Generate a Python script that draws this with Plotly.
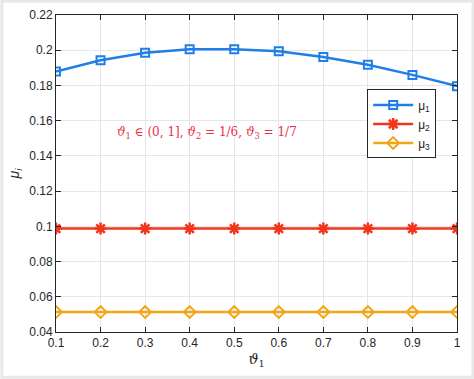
import plotly.graph_objects as go

theta1 = [0.1, 0.2, 0.3, 0.4, 0.5, 0.6, 0.7, 0.8, 0.9, 1.0]
mu1 = [0.1879, 0.1943, 0.1985, 0.2006, 0.2006, 0.1994, 0.1962, 0.1917, 0.1860, 0.1796]
mu2 = [0.0987] * 10
mu3 = [0.0513] * 10

x_ticks = [0.1, 0.2, 0.3, 0.4, 0.5, 0.6, 0.7, 0.8, 0.9, 1.0]
x_ticklabels = ["0.1", "0.2", "0.3", "0.4", "0.5", "0.6", "0.7", "0.8", "0.9", "1"]
y_ticks = [0.04, 0.06, 0.08, 0.1, 0.12, 0.14, 0.16, 0.18, 0.2, 0.22]
y_ticklabels = ["0.04", "0.06", "0.08", "0.1", "0.12", "0.14", "0.16", "0.18", "0.2", "0.22"]

fig = go.Figure()
fig.add_trace(go.Scatter(x=theta1, y=mu1, mode="lines+markers", name="μ<sub>1</sub>",
                         line=dict(color="#1f7ee8", width=2.5),
                         marker=dict(symbol="square-open", size=8, color="#1f7ee8", line=dict(width=2))))
fig.add_trace(go.Scatter(x=theta1, y=mu2, mode="lines+markers", name="μ<sub>2</sub>",
                         line=dict(color="#f2361c", width=2.5),
                         marker=dict(symbol="asterisk-open", size=10, color="#f2361c", line=dict(width=2.5, color="#f2361c"))))
fig.add_trace(go.Scatter(x=theta1, y=mu3, mode="lines+markers", name="μ<sub>3</sub>",
                         line=dict(color="#f2a516", width=2.5),
                         marker=dict(symbol="diamond-open", size=9, color="#f2a516", line=dict(width=2))))

fig.add_annotation(x=0.438, y=0.1531, xref="x", yref="y",
                   text="<i>ϑ</i><sub>1</sub> ∈ (0, 1], <i>ϑ</i><sub>2</sub> = 1/6, <i>ϑ</i><sub>3</sub> = 1/7",
                   showarrow=False, font=dict(family="DejaVu Serif", size=12, color="#e8334a"))

axis_common = dict(showline=True, linecolor="#262626", linewidth=1, mirror="ticks",
                   ticks="inside", ticklen=5, tickcolor="#262626", automargin=False,
                   showgrid=True, gridcolor="#e6e6e6", gridwidth=1, zeroline=False,
                   tickfont=dict(family="Liberation Sans", size=12, color="#262626"))

fig.update_xaxes(range=[0.1, 1.0], tickvals=x_ticks, ticktext=x_ticklabels,
                 title=dict(text="<i>ϑ</i><sub>1</sub>", font=dict(family="DejaVu Serif", size=14, color="#262626"), standoff=4),
                 **axis_common)
fig.update_yaxes(range=[0.04, 0.22], tickvals=y_ticks, ticktext=y_ticklabels,
                 title=dict(text="<i>μ<sub>i</sub></i>", font=dict(family="Liberation Sans", size=14, color="#262626"), standoff=6),
                 **axis_common)

fig.update_layout(
    width=474, height=379,
    margin=dict(l=56, r=17, t=15, b=47),
    paper_bgcolor="white", plot_bgcolor="white",
    legend=dict(x=0.776, y=0.765, xanchor="left", yanchor="top",
                bgcolor="white", bordercolor="#262626", borderwidth=1,
                font=dict(family="Liberation Sans", size=12, color="#262626"),
                tracegroupgap=0, itemwidth=40),
    showlegend=True,
)
fig.add_shape(type="rect", xref="paper", yref="paper", x0=-0.135, x1=1.04, y0=-0.143, y1=1.043,
              line=dict(color="#e8e8e8", width=3), layer="below")

fig.write_html("out.html", config={"displayModeBar": False},
               post_script="document.body.style.margin='0';document.body.style.overflow='hidden';")
